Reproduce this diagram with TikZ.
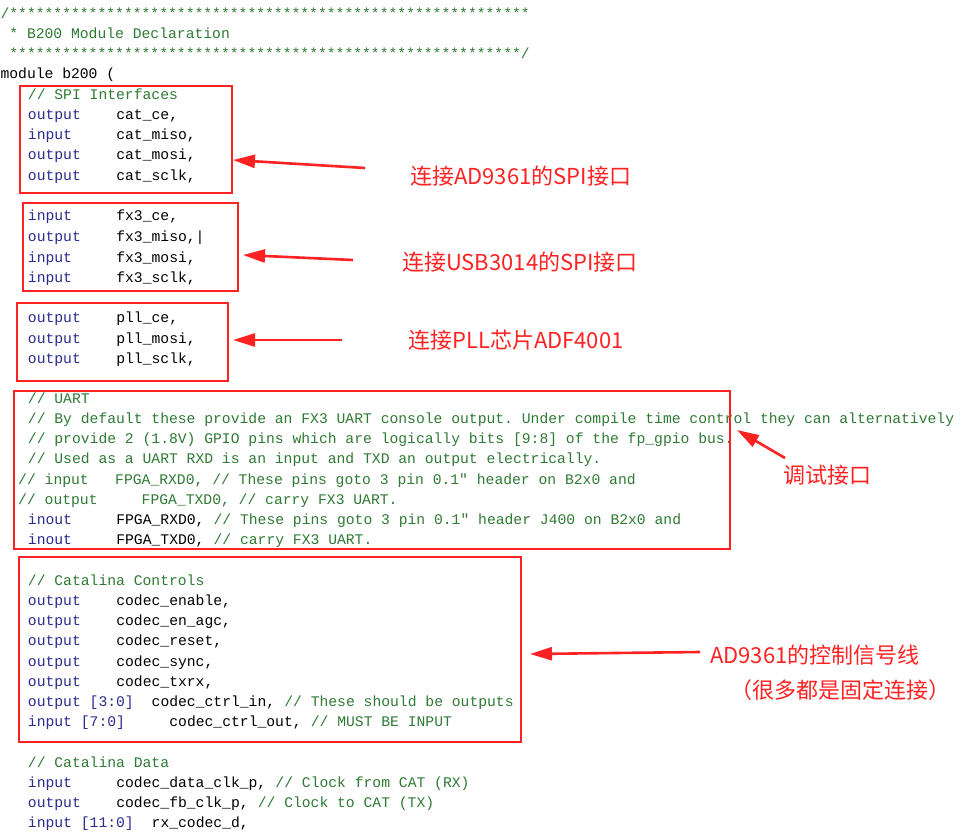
\documentclass[tikz,border=0pt]{standalone}
\usepackage{fontspec}
\setmonofont{Liberation Mono}
\newfontfamily\cjk{Noto Sans CJK SC}
\usetikzlibrary{arrows.meta}
\definecolor{kw}{HTML}{2B2B8F}
\definecolor{cm}{HTML}{2F7A34}
\definecolor{rd}{HTML}{FF2222}
\newcommand\cd[5]{\node[codetxt,text=#4] (#1) at ({#2*8.84+3},{#3+5}) {#5};}
\begin{document}
\begin{tikzpicture}[x=1pt,y=-1pt,
  codetxt/.style={anchor=base west,inner sep=0pt,font=\ttfamily\fontsize{14.7}{16}\selectfont},
  redbox/.style={draw=rd,line width=2.2pt},
  redarrow/.style={draw=rd,line width=2.6pt,-{Triangle[length=22pt,width=13pt]}},
  lbl/.style={text=rd,font=\cjk\fontsize{22}{26}\selectfont,anchor=west,inner sep=0pt}]
\fill[white] (0,0) rectangle (979,834);
\useasboundingbox (0,0) rectangle (979,834);
% header
\cd{h1}{-0.3}{14}{cm}{/***********************************************************}
\cd{h2}{-0.3}{34}{cm}{\ * B200 Module Declaration}
\cd{h3}{-0.3}{54}{cm}{\ **********************************************************/}
\cd{h4}{-0.3}{74}{black}{module b200 (}
% SPI
\cd{s0}{2.8}{95}{cm}{// SPI Interfaces}
\cd{s1}{2.8}{115}{kw}{output}\cd{s1b}{12.8}{115}{black}{cat\_ce,}
\cd{s2}{2.8}{135}{kw}{input}\cd{s2b}{12.8}{135}{black}{cat\_miso,}
\cd{s3}{2.8}{155}{kw}{output}\cd{s3b}{12.8}{155}{black}{cat\_mosi,}
\cd{s4}{2.8}{176}{kw}{output}\cd{s4b}{12.8}{176}{black}{cat\_sclk,}
% FX3
\cd{f1}{2.8}{216}{kw}{input}\cd{f1b}{12.8}{216}{black}{fx3\_ce,}
\cd{f2}{2.8}{237}{kw}{output}\cd{f2b}{12.8}{237}{black}{fx3\_miso,|}
\cd{f3}{2.8}{257}{kw}{input}\cd{f3b}{12.8}{257}{black}{fx3\_mosi,}
\cd{f4}{2.8}{277}{kw}{input}\cd{f4b}{12.8}{277}{black}{fx3\_sclk,}
% PLL
\cd{p1}{2.8}{317}{kw}{output}\cd{p1b}{12.8}{317}{black}{pll\_ce,}
\cd{p2}{2.8}{338}{kw}{output}\cd{p2b}{12.8}{338}{black}{pll\_mosi,}
\cd{p3}{2.8}{358}{kw}{output}\cd{p3b}{12.8}{358}{black}{pll\_sclk,}
% UART
\cd{u0}{2.8}{398}{cm}{// UART}
\cd{u1}{2.8}{418}{cm}{// By default these provide an FX3 UART console output. Under compile time control they can alternatively}
\cd{u2}{2.8}{438}{cm}{// provide 2 (1.8V) GPIO pins which are logically bits [9:8] of the fp\_gpio bus.}
\cd{u3}{2.8}{458}{cm}{// Used as a UART RXD is an input and TXD an output electrically.}
\cd{u4}{1.7}{479}{cm}{// input\ \ \ FPGA\_RXD0, // These pins goto 3 pin 0.1" header on B2x0 and}
\cd{u5}{1.7}{499}{cm}{// output\ \ \ \ \ FPGA\_TXD0, // carry FX3 UART.}
\cd{u6}{2.8}{519}{kw}{inout}\cd{u6b}{12.8}{519}{black}{FPGA\_RXD0,}\cd{u6c}{23.8}{519}{cm}{// These pins goto 3 pin 0.1" header J400 on B2x0 and}
\cd{u7}{2.8}{539}{kw}{inout}\cd{u7b}{12.8}{539}{black}{FPGA\_TXD0,}\cd{u7c}{23.8}{539}{cm}{// carry FX3 UART.}
% Catalina controls
\cd{c0}{2.8}{580}{cm}{// Catalina Controls}
\cd{c1}{2.8}{600}{kw}{output}\cd{c1b}{12.8}{600}{black}{codec\_enable,}
\cd{c2}{2.8}{620}{kw}{output}\cd{c2b}{12.8}{620}{black}{codec\_en\_agc,}
\cd{c3}{2.8}{640}{kw}{output}\cd{c3b}{12.8}{640}{black}{codec\_reset,}
\cd{c4}{2.8}{661}{kw}{output}\cd{c4b}{12.8}{661}{black}{codec\_sync,}
\cd{c5}{2.8}{681}{kw}{output}\cd{c5b}{12.8}{681}{black}{codec\_txrx,}
\cd{c6}{2.8}{701}{kw}{output [3:0]}\cd{c6b}{16.8}{701}{black}{codec\_ctrl\_in,}\cd{c6c}{31.8}{701}{cm}{// These should be outputs}
\cd{c7}{2.8}{721}{kw}{input [7:0]}\cd{c7b}{18.8}{721}{black}{codec\_ctrl\_out,}\cd{c7c}{34.8}{721}{cm}{// MUST BE INPUT}
% Catalina data
\cd{d0}{2.8}{762}{cm}{// Catalina Data}
\cd{d1}{2.8}{782}{kw}{input}\cd{d1b}{12.8}{782}{black}{codec\_data\_clk\_p,}\cd{d1c}{30.8}{782}{cm}{// Clock from CAT (RX)}
\cd{d2}{2.8}{802}{kw}{output}\cd{d2b}{12.8}{802}{black}{codec\_fb\_clk\_p,}\cd{d2c}{28.8}{802}{cm}{// Clock to CAT (TX)}
\cd{d3}{2.8}{822}{kw}{input [11:0]}\cd{d3b}{16.8}{822}{black}{rx\_codec\_d,}
% boxes
\node[redbox,minimum width=212pt,minimum height=107pt,anchor=north west] (b1) at (19,85) {};
\node[redbox,minimum width=215pt,minimum height=88pt,anchor=north west] (b2) at (22,202) {};
\node[redbox,minimum width=211pt,minimum height=78pt,anchor=north west] (b3) at (16,302) {};
\node[redbox,minimum width=716pt,minimum height=158pt,anchor=north west] (b4) at (13,390) {};
\node[redbox,minimum width=502pt,minimum height=185pt,anchor=north west] (b5) at (18,556) {};
% labels
\node[lbl] (l1) at (410,176) {连接AD9361的SPI接口};
\node[lbl] (l2) at (402,262) {连接USB3014的SPI接口};
\node[lbl] (l3) at (408,340) {连接PLL芯片ADF4001};
\node[lbl] (l4) at (783,475) {调试接口};
\node[lbl] (l5) at (710,655) {AD9361的控制信号线};
\node[lbl] (l6) at (730,690) {（很多都是固定连接）};
% arrows
\coordinate (t1) at (365,168); \coordinate (h1a) at (233,160);
\coordinate (t2) at (353,260); \coordinate (h2a) at (243,255);
\coordinate (t3) at (342,340); \coordinate (h3a) at (233,340);
\coordinate (t4) at (785,458); \coordinate (h4a) at (737,430);
\coordinate (t5) at (700,652); \coordinate (h5a) at (530,654);
\draw[redarrow] (t1) -- (h1a);
\draw[redarrow] (t2) -- (h2a);
\draw[redarrow] (t3) -- (h3a);
\draw[redarrow] (t4) -- (h4a);
\draw[redarrow] (t5) -- (h5a);
\end{tikzpicture}
\end{document}
